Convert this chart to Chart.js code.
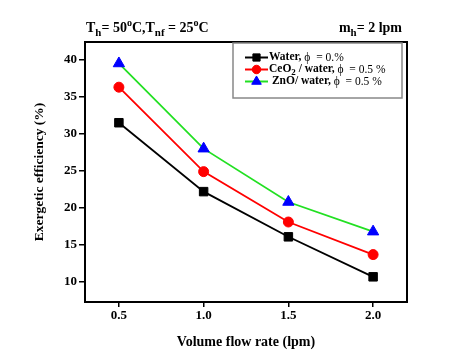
<!DOCTYPE html>
<html>
<head>
<meta charset="utf-8">
<script src="https://cdn.jsdelivr.net/npm/chart.js@4.4.0/dist/chart.umd.min.js"></script>
<style>
  html, body { margin: 0; padding: 0; background: #fff; }
  #wrap { width: 474px; height: 361px; }
</style>
</head>
<body>
<div id="wrap"><canvas id="myChart"></canvas></div>
<script>
// data
const flowRates = [0.5, 1.0, 1.5, 2.0];
const water = [31.5, 22.2, 16.1, 10.7];
const ceo2Water = [36.3, 24.9, 18.1, 13.7];
const znoWater = [39.5, 28.0, 20.8, 16.8];

const xTicks = [0.5, 1.0, 1.5, 2.0];
const yTicks = [10, 15, 20, 25, 30, 35, 40];

// labels with simple markup: _{sub} ^{sup} ~{normal weight}
const seriesLabels = [
    'Water, ~{\u03D5  = 0.%}',
    'CeO_{2} / water, ~{\u03D5  = 0.5 %}',
    ' ZnO/ water, ~{\u03D5  = 0.5 %}'
];
const headLeft = 'T_{h}= 50^{o}C,T_{nf} = 25^{o}C';
const headRight = 'm_{h}= 2 lpm';

const serif = '"Liberation Serif", "Times New Roman", serif';

function parseRich(str) {
    const parts = [];
    const re = /([_^~])\{([^}]*)\}/g;
    let last = 0, m;
    while ((m = re.exec(str)) !== null) {
        if (m.index > last) parts.push({ t: str.slice(last, m.index), k: '' });
        parts.push({ t: m[2], k: m[1] });
        last = re.lastIndex;
    }
    if (last < str.length) parts.push({ t: str.slice(last), k: '' });
    return parts;
}

function richText(ctx, str, x, y, size, draw) {
    let cx = x;
    for (const p of parseRich(str)) {
        let s = size, dy = 0, w = 'bold';
        if (p.k === '_') { s = size * 0.78; dy = size * 0.32; }
        if (p.k === '^') { s = size * 0.72; dy = -size * 0.42; }
        if (p.k === '~') { w = 'normal'; }
        ctx.font = w + ' ' + s + 'px ' + serif;
        if (draw) ctx.fillText(p.t, cx, y + dy);
        cx += ctx.measureText(p.t).width;
    }
    return cx - x;
}

const decor = {
    id: 'decor',
    afterDatasetsDraw(chart) {
        const ctx = chart.ctx;
        const a = chart.chartArea;
        ctx.save();
        // frame
        ctx.strokeStyle = '#000';
        ctx.lineWidth = 2;
        ctx.strokeRect(a.left, a.top, a.right - a.left, a.bottom - a.top);

        // header texts
        ctx.fillStyle = '#000';
        ctx.textBaseline = 'alphabetic';
        richText(ctx, headLeft, 86, 32, 14, true);
        const w = richText(ctx, headRight, 0, 0, 14, false);
        richText(ctx, headRight, 402 - w, 32, 14, true);

        // legend box
        const lx = 233, ly = 43, lw = 169, lh = 55;
        ctx.fillStyle = '#fff';
        ctx.fillRect(lx, ly, lw, lh);
        ctx.strokeStyle = '#888';
        ctx.lineWidth = 1.5;
        ctx.strokeRect(lx, ly, lw, lh);
        const rows = [57.5, 69.5, 81.5];
        chart.data.datasets.forEach((ds, i) => {
            const cy = rows[i];
            ctx.strokeStyle = ds.borderColor;
            ctx.lineWidth = 2;
            ctx.beginPath();
            ctx.moveTo(245, cy);
            ctx.lineTo(268, cy);
            ctx.stroke();
            ctx.fillStyle = ds.pointBackgroundColor;
            ctx.strokeStyle = ds.pointBorderColor;
            ctx.lineWidth = 1;
            Chart.helpers.drawPoint(ctx, {
                pointStyle: ds.pointStyle,
                radius: ds.pointRadius * 0.85,
                borderWidth: 1
            }, 256.5, cy);
            ctx.fillStyle = '#000';
            ctx.textBaseline = 'middle';
            richText(ctx, ds.label, 269, cy, 11.5, true);
        });
        ctx.restore();
    }
};

function toPoints(ys) {
    return ys.map((y, i) => ({ x: flowRates[i], y: y }));
}

const data = {
    datasets: [{
        label: seriesLabels[0],
        data: toPoints(water),
        borderColor: '#000000',
        pointBackgroundColor: '#000000',
        pointBorderColor: '#000000',
        pointStyle: 'rect',
        pointRadius: 6
    }, {
        label: seriesLabels[1],
        data: toPoints(ceo2Water),
        borderColor: '#ff0000',
        pointBackgroundColor: '#ff0000',
        pointBorderColor: '#ff0000',
        pointStyle: 'circle',
        pointRadius: 5
    }, {
        label: seriesLabels[2],
        data: toPoints(znoWater),
        borderColor: '#22e022',
        pointBackgroundColor: '#0000ff',
        pointBorderColor: '#0000ff',
        pointStyle: 'triangle',
        pointRadius: 6.5
    }]
};

const tickFont = { family: serif, size: 13, weight: 'bold' };

const config = {
    type: 'line',
    data: data,
    options: {
        responsive: false,
        animation: false,
        clip: false,
        layout: { padding: { left: 0, right: 67, top: 42, bottom: 0 } },
        elements: { line: { borderWidth: 1.8, tension: 0 }, point: { borderWidth: 1 } },
        plugins: { legend: { display: false }, tooltip: { enabled: false } },
        scales: {
            x: {
                type: 'linear',
                min: 0.3,
                max: 2.2,
                afterBuildTicks: (s) => { s.ticks = xTicks.map(v => ({ value: v })); },
                afterFit: (s) => { s.height = 59; },
                border: { display: false },
                grid: { drawOnChartArea: false, drawTicks: true, tickLength: 5, color: '#000', lineWidth: 1.5 },
                ticks: { color: '#000', font: tickFont, padding: 1, maxRotation: 0, callback: v => v.toFixed(1) },
                title: { display: true, text: 'Volume flow rate (lpm)', color: '#000', font: { family: serif, size: 14, weight: 'bold' }, padding: { top: 4, bottom: 10 } }
            },
            y: {
                min: 7.3,
                max: 42.4,
                afterBuildTicks: (s) => { s.ticks = yTicks.map(v => ({ value: v })); },
                afterFit: (s) => { s.width = 85; },
                border: { display: false },
                grid: { drawOnChartArea: false, drawTicks: true, tickLength: 6, color: '#000', lineWidth: 1.5 },
                ticks: { color: '#000', font: tickFont, padding: 2 },
                title: { display: true, text: 'Exergetic efficiency (%)', color: '#000', font: { family: serif, size: 13.5, weight: 'bold' }, padding: { top: 31, bottom: 4 } }
            }
        }
    },
    plugins: [decor]
};

const canvas = document.getElementById('myChart');
canvas.width = 474;
canvas.height = 361;
const myChart = new Chart(canvas, config);
</script>
</body>
</html>
